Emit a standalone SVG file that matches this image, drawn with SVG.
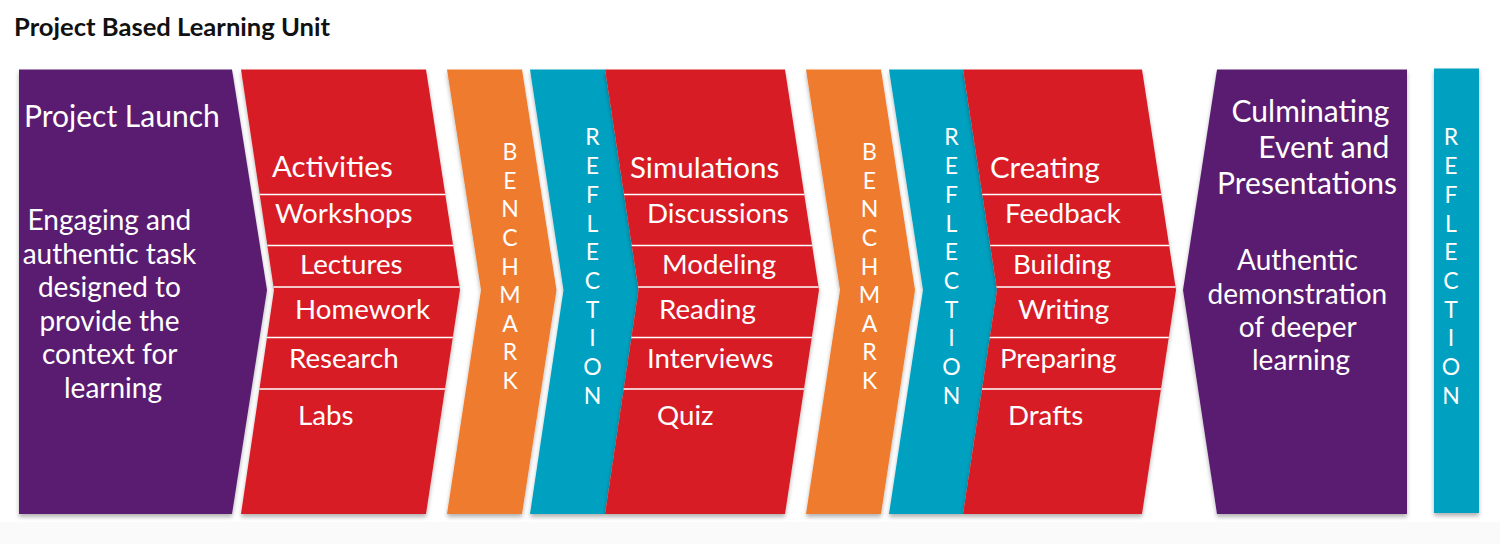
<svg xmlns="http://www.w3.org/2000/svg" width="1500" height="544" viewBox="0 0 1500 544">
<style>
.purple{fill:#5A1E70}
.red{fill:#D71F27}
.orange{fill:#EF7C2F}
.blue{fill:#00A1C0}
.sh{filter:url(#shadow)}
.t{font-family:Lato,"Open Sans","Liberation Sans",sans-serif;fill:#fff}
.item{font-size:27.7px}
.head{font-size:29.5px}
.vert{font-size:23px;font-weight:normal;text-anchor:middle}
.sep{stroke:#fff;stroke-width:1.6}
.title{font-family:Lato,"Liberation Sans",sans-serif;font-weight:bold;font-size:25.6px;fill:#111}
</style>
<defs>
<filter id="shadow" x="-10%" y="-10%" width="120%" height="120%">
<feDropShadow dx="0" dy="3" stdDeviation="2" flood-color="#000" flood-opacity="0.3"/>
</filter>
<clipPath id="c1"><polygon points="241,69.5 426,69.5 460,290 426,514 241,514 274,290"/></clipPath>
<clipPath id="c2"><polygon points="605,69.5 785,69.5 819,290 785,514 605,514 638.5,290"/></clipPath>
<clipPath id="c3"><polygon points="963,69.5 1142,69.5 1176,290 1142,514 963,514 997,290"/></clipPath>
</defs>
<rect x="0" y="0" width="1500" height="544" fill="#fff"/>
<rect x="0" y="522" width="1500" height="22" fill="#fafafa"/>
<text class="title" x="14" y="36">Project Based Learning Unit</text>

<g id="project-launch">
<polygon class="purple sh" points="19,69.5 232,69.5 267,290 232,514 19,514"/>
<text class="t" x="24" y="127" font-size="30">Project Launch</text>
<text class="t" font-size="28" text-anchor="middle">
<tspan x="113" y="230">Engaging and</tspan>
<tspan x="113" y="263.5">authentic task</tspan>
<tspan x="113" y="297">designed to</tspan>
<tspan x="113" y="330.5">provide the</tspan>
<tspan x="113" y="364">context for</tspan>
<tspan x="113" y="397.5">learning</tspan>
</text>
</g>

<g id="activities">
<polygon class="red sh" points="241,69.5 426,69.5 460,290 426,514 241,514 274,290"/>
<g clip-path="url(#c1)">
<line class="sep" x1="230" y1="194.5" x2="470" y2="194.5"/>
<line class="sep" x1="230" y1="245.5" x2="470" y2="245.5"/>
<line class="sep" x1="230" y1="287" x2="470" y2="287"/>
<line class="sep" x1="230" y1="337.5" x2="470" y2="337.5"/>
<line class="sep" x1="230" y1="389" x2="470" y2="389"/>
</g>
<text class="t head" x="272" y="177">Activities</text>
<text class="t item" x="275" y="222.5">Workshops</text>
<text class="t item" x="300" y="274">Lectures</text>
<text class="t item" x="295" y="319">Homework</text>
<text class="t item" x="289" y="368">Research</text>
<text class="t item" x="298" y="425">Labs</text>
</g>

<g id="benchmark-1">
<polygon class="orange sh" points="447,69.5 522,69.5 556.5,290 522,514 447,514 481,290"/>
<text class="t vert">
<tspan x="510" y="160">B</tspan><tspan x="510" y="188.5">E</tspan><tspan x="510" y="217">N</tspan><tspan x="510" y="246">C</tspan><tspan x="510" y="274.5">H</tspan><tspan x="510" y="303">M</tspan><tspan x="510" y="331.5">A</tspan><tspan x="510" y="360">R</tspan><tspan x="510" y="388.5">K</tspan>
</text>
</g>

<g id="reflection-1">
<polygon class="blue sh" points="530,69.5 605,69.5 638.5,290 605,514 530,514 563.5,290"/>
<text class="t vert">
<tspan x="592.5" y="145">R</tspan><tspan x="592.5" y="174">E</tspan><tspan x="592.5" y="202.5">F</tspan><tspan x="592.5" y="231.5">L</tspan><tspan x="592.5" y="260">E</tspan><tspan x="592.5" y="289">C</tspan><tspan x="592.5" y="317.5">T</tspan><tspan x="592.5" y="346">I</tspan><tspan x="592.5" y="375">O</tspan><tspan x="592.5" y="403.5">N</tspan>
</text>
</g>

<g id="simulations">
<polygon class="red sh" points="605,69.5 785,69.5 819,290 785,514 605,514 638.5,290"/>
<g clip-path="url(#c2)">
<line class="sep" x1="595" y1="194.5" x2="830" y2="194.5"/>
<line class="sep" x1="595" y1="245.5" x2="830" y2="245.5"/>
<line class="sep" x1="595" y1="287" x2="830" y2="287"/>
<line class="sep" x1="595" y1="337.5" x2="830" y2="337.5"/>
<line class="sep" x1="595" y1="389" x2="830" y2="389"/>
</g>
<text class="t head" x="630" y="178">Simulations</text>
<text class="t item" x="647" y="222.5">Discussions</text>
<text class="t item" x="662" y="274">Modeling</text>
<text class="t item" x="659" y="319">Reading</text>
<text class="t item" x="647" y="368">Interviews</text>
<text class="t item" x="657" y="425">Quiz</text>
</g>

<g id="benchmark-2">
<polygon class="orange sh" points="806,69.5 881,69.5 915,290 881,514 806,514 840,290"/>
<text class="t vert">
<tspan x="869.5" y="160">B</tspan><tspan x="869.5" y="188.5">E</tspan><tspan x="869.5" y="217">N</tspan><tspan x="869.5" y="246">C</tspan><tspan x="869.5" y="274.5">H</tspan><tspan x="869.5" y="303">M</tspan><tspan x="869.5" y="331.5">A</tspan><tspan x="869.5" y="360">R</tspan><tspan x="869.5" y="388.5">K</tspan>
</text>
</g>

<g id="reflection-2">
<polygon class="blue sh" points="889,69.5 963,69.5 997,290 963,514 889,514 923,290"/>
<text class="t vert">
<tspan x="951.5" y="145">R</tspan><tspan x="951.5" y="174">E</tspan><tspan x="951.5" y="202.5">F</tspan><tspan x="951.5" y="231.5">L</tspan><tspan x="951.5" y="260">E</tspan><tspan x="951.5" y="289">C</tspan><tspan x="951.5" y="317.5">T</tspan><tspan x="951.5" y="346">I</tspan><tspan x="951.5" y="375">O</tspan><tspan x="951.5" y="403.5">N</tspan>
</text>
</g>

<g id="creating">
<polygon class="red sh" points="963,69.5 1142,69.5 1176,290 1142,514 963,514 997,290"/>
<g clip-path="url(#c3)">
<line class="sep" x1="950" y1="194.5" x2="1190" y2="194.5"/>
<line class="sep" x1="950" y1="245.5" x2="1190" y2="245.5"/>
<line class="sep" x1="950" y1="287" x2="1190" y2="287"/>
<line class="sep" x1="950" y1="337.5" x2="1190" y2="337.5"/>
<line class="sep" x1="950" y1="389" x2="1190" y2="389"/>
</g>
<text class="t head" x="990" y="178">Creating</text>
<text class="t item" x="1005" y="222.5">Feedback</text>
<text class="t item" x="1013" y="274">Building</text>
<text class="t item" x="1018" y="319">Writing</text>
<text class="t item" x="1000" y="368">Preparing</text>
<text class="t item" x="1008" y="425">Drafts</text>
</g>

<g id="culminating-event">
<polygon class="purple sh" points="1217,69.5 1407,69.5 1407,514 1217,514 1183,290"/>
<text class="t" font-size="30" text-anchor="end">
<tspan x="1397" y="122">Culminating</tspan>
<tspan x="1397" y="158">Event and</tspan>
<tspan x="1397" y="193.5">Presentations</tspan>
</text>
<text class="t" font-size="28" text-anchor="middle">
<tspan x="1301" y="270">Authentic</tspan>
<tspan x="1301" y="303.5">demonstration</tspan>
<tspan x="1301" y="337">of deeper</tspan>
<tspan x="1301" y="370">learning</tspan>
</text>
</g>

<g id="reflection-3">
<rect class="blue sh" x="1434" y="68.5" width="45" height="444.5"/>
<text class="t vert">
<tspan x="1451" y="145">R</tspan><tspan x="1451" y="174">E</tspan><tspan x="1451" y="202.5">F</tspan><tspan x="1451" y="231.5">L</tspan><tspan x="1451" y="260">E</tspan><tspan x="1451" y="289">C</tspan><tspan x="1451" y="317.5">T</tspan><tspan x="1451" y="346">I</tspan><tspan x="1451" y="375">O</tspan><tspan x="1451" y="403.5">N</tspan>
</text>
</g>
<g id="connectors"/>
</svg>
